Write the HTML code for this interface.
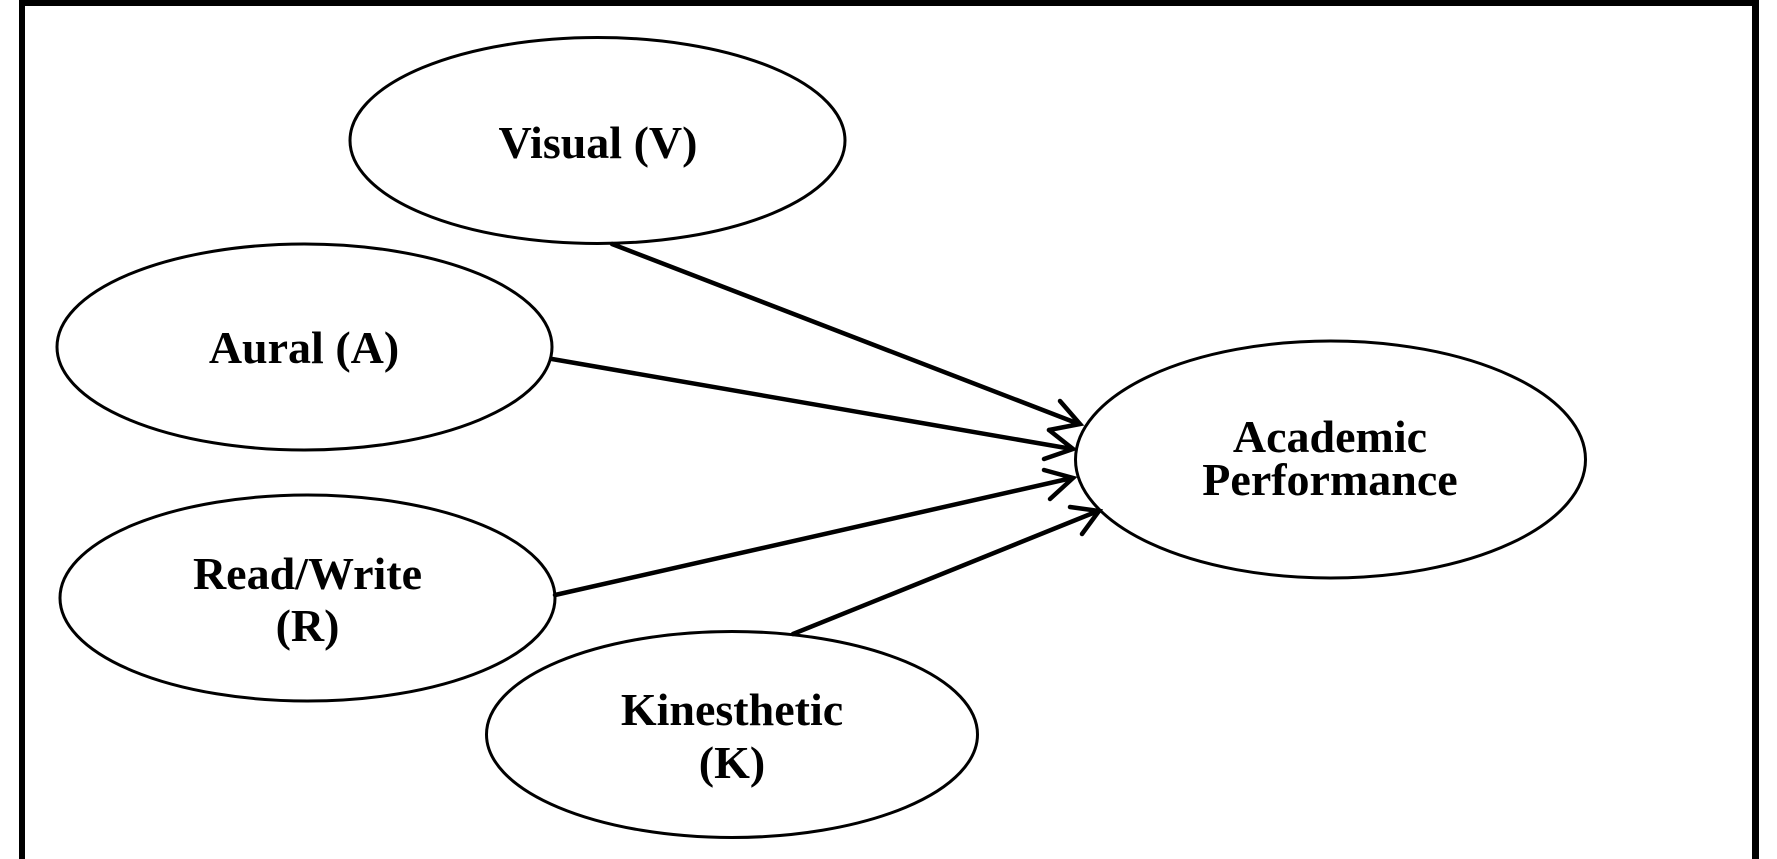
<!DOCTYPE html>
<html>
<head>
<meta charset="utf-8">
<style>
html,body{margin:0;padding:0;background:#fff;width:1777px;height:859px;overflow:hidden}
svg{display:block}
text{font-family:"Liberation Serif",serif;font-weight:bold;font-size:46px;fill:#000;text-anchor:middle}
</style>
</head>
<body>
<svg width="1777" height="859" viewBox="0 0 1777 859" xmlns="http://www.w3.org/2000/svg">
<rect width="1777" height="859" fill="#fff"/>
<rect x="19" y="0" width="6" height="859" fill="#000"/>
<rect x="1752" y="0" width="7" height="859" fill="#000"/>
<rect x="19" y="0" width="1740" height="6" fill="#000"/>
<g fill="none" stroke="#000" stroke-width="3">
<ellipse cx="597.5" cy="140.5" rx="247.5" ry="103"/>
<ellipse cx="304.5" cy="347" rx="247.5" ry="103"/>
<ellipse cx="307.5" cy="598" rx="247.5" ry="103"/>
<ellipse cx="732" cy="734.5" rx="245.5" ry="103"/>
<ellipse cx="1330.5" cy="459.5" rx="255" ry="118.5"/>
</g>
<g fill="none" stroke="#000" stroke-width="4.5" stroke-linecap="round" stroke-linejoin="miter">
<line x1="612" y1="244" x2="1079" y2="424"/>
<polyline points="1060,401 1080,424 1049,430"/>
<line x1="552" y1="359" x2="1072" y2="449"/>
<polyline points="1049,430 1073,449 1044,459"/>
<line x1="555" y1="595" x2="1072" y2="478"/>
<polyline points="1044,470 1073,478 1050,499"/>
<line x1="793" y1="634" x2="1098" y2="511"/>
<polyline points="1070,507 1099,511 1082,534"/>
</g>
<text x="598" y="158">Visual (V)</text>
<text x="304" y="363">Aural (A)</text>
<text x="307.5" y="589">Read/Write</text>
<text x="307.5" y="641">(R)</text>
<text x="732" y="725">Kinesthetic</text>
<text x="732" y="778">(K)</text>
<text x="1330" y="452">Academic</text>
<text x="1330" y="495">Performance</text>
</svg>
</body>
</html>
